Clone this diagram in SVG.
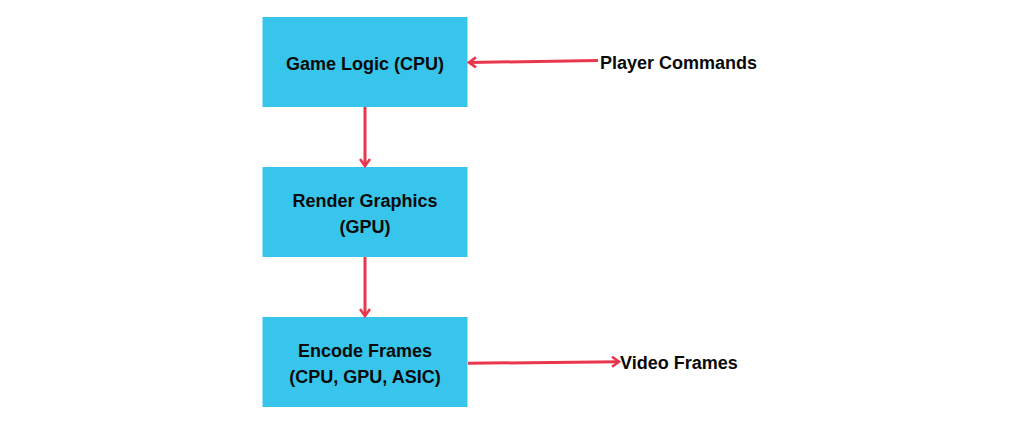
<svg xmlns="http://www.w3.org/2000/svg" width="1024" height="428" viewBox="0 0 1024 428">
<defs>
<style>
.box{fill:#38C5EB;}
.t{font-family:"Liberation Sans",Arial,sans-serif;font-weight:bold;font-size:18px;fill:#0a0a0a;}
.c{text-anchor:middle;}
.e{stroke:#E8364C;stroke-width:3;fill:none;}
</style>
<marker id="ah" viewBox="0 0 12 12" refX="10" refY="6" markerWidth="12" markerHeight="12" markerUnits="userSpaceOnUse" orient="auto">
<path d="M3,1 L10,6 L3,11" fill="none" stroke="#E8364C" stroke-width="2.6"/>
</marker>
</defs>
<rect width="1024" height="428" fill="#fff"/>
<g id="game-logic">
<rect class="box" x="262.5" y="17" width="205" height="90"/>
<text class="t c" x="365" y="70">Game Logic (CPU)</text>
</g>
<g id="render-graphics">
<rect class="box" x="262.5" y="167" width="205" height="90"/>
<text class="t c" x="365" y="207">Render Graphics</text>
<text class="t c" x="365" y="233">(GPU)</text>
</g>
<g id="encode-frames">
<rect class="box" x="262.5" y="317" width="205" height="90"/>
<text class="t c" x="365" y="357">Encode Frames</text>
<text class="t c" x="365" y="383">(CPU, GPU, ASIC)</text>
</g>
<g id="player-commands">
<text class="t" x="600" y="69">Player Commands</text>
</g>
<g id="video-frames">
<text class="t" x="620" y="369">Video Frames</text>
</g>
<g id="connectors">
<line class="e" x1="598" y1="60.5" x2="469" y2="62.5" marker-end="url(#ah)"/>
<line class="e" x1="365" y1="107" x2="365" y2="166" marker-end="url(#ah)"/>
<line class="e" x1="365" y1="257" x2="365" y2="316" marker-end="url(#ah)"/>
<line class="e" x1="468" y1="363.3" x2="619" y2="361.7" marker-end="url(#ah)"/>
</g>
</svg>
